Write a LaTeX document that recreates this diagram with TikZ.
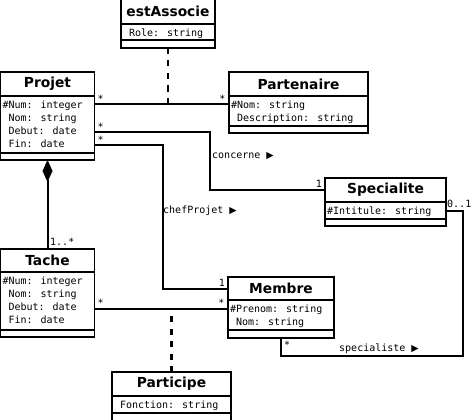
\documentclass[tikz,border=0pt]{standalone}
\usepackage{fontspec}
\setmainfont{DejaVu Sans}
\newfontfamily\monof{DejaVu Sans Mono}
\newfontfamily\symf{DejaVu Sans}
\usetikzlibrary{arrows.meta}
\newcommand\indsp{\hphantom{x}}
\newcommand\tri{{\symf\fontsize{9.5}{10}\selectfont ▶}}
\tikzset{
  classbox/.style={draw, line width=1.9pt, inner sep=0pt, outer sep=0pt, anchor=north west, fill=white},
  divline/.style={line width=1.9pt},
  titletext/.style={font=\fontsize{13.8}{16}\selectfont\bfseries, inner sep=0pt},
  attrtext/.style={font={\monof\fontsize{10}{13.3}\selectfont}, align=left, inner sep=0pt, anchor=north west},
  conn/.style={line width=2pt},
  assoc/.style={line width=2.2pt, dash pattern=on 6pt off 6.5pt},
  mult/.style={font={\monof\fontsize{10}{12}\selectfont}, inner sep=0pt},
  role/.style={font={\monof\fontsize{10}{12}\selectfont}, inner sep=0pt, anchor=base west},
}
% #1 name, #2 x, #3 top y, #4 width, #5 height, #6 first divider offset, #7 second divider offset, #8 title, #9 attributes
\newcommand\umlclass[9]{%
  \node[classbox, minimum width=#4pt, minimum height=#5pt] (#1) at (#2,#3) {};
  \draw[divline] ([yshift=-#6pt]#1.north west) -- ([yshift=-#6pt]#1.north east);
  \draw[divline] ([yshift=-#7pt]#1.north west) -- ([yshift=-#7pt]#1.north east);
  \node[titletext] (#1-title) at ([yshift=-#6pt/2]#1.north) {#8};
  \node[attrtext] (#1-attrs) at ([xshift=1.8pt,yshift=-#6pt-4.3pt]#1.north west) {#9};
}
\begin{document}
\begin{tikzpicture}[x=1pt,y=-1pt]
\fill[white] (0,0) rectangle (474,420);
\useasboundingbox (0,0) rectangle (474,420);

\umlclass{estassocie}{121}{-1}{94}{49}{25}{41}{estAssocie}{\indsp Role: string}
\umlclass{projet}{0.5}{72}{94}{88}{24}{81}{Projet}{\#Num: integer\\\indsp Nom: string\\\indsp Debut: date\\\indsp Fin: date}
\umlclass{partenaire}{229}{72}{139}{61}{24}{54}{Partenaire}{\#Nom: string\\\indsp Description: string}
\umlclass{specialite}{325}{178}{121}{48}{24}{41}{Specialite}{\#Intitule: string}
\umlclass{tache}{0.5}{249}{94}{88}{23}{81}{Tache}{\#Num: integer\\\indsp Nom: string\\\indsp Debut: date\\\indsp Fin: date}
\umlclass{membre}{228}{277}{106}{61}{23}{53}{Membre}{\#Prenom: string\\\indsp Nom: string}
\umlclass{participe}{112}{372}{119}{53}{24}{41}{Participe}{\indsp Fonction: string}

% Projet -- Partenaire (estAssocie)
\coordinate (pA) at ([yshift=-32pt]projet.north east);
\coordinate (pB) at ([yshift=-32pt]partenaire.north west);
\draw[conn] (pA) -- (pB);
\draw[assoc] (estassocie.south) -- (estassocie.south |- pA);
\node[mult, anchor=base west] (m1) at ([xshift=3pt,yshift=1.8pt]pA) {*};
\node[mult, anchor=base east] (m2) at ([xshift=-3.5pt,yshift=1.8pt]pB) {*};

% concerne
\coordinate (cA) at ([yshift=-60pt]projet.north east);
\coordinate (cB) at ([yshift=-12pt]specialite.north west);
\draw[conn] (cA) -- ++(115,0) |- (cB);
\node[mult, anchor=base west] (m3) at ([xshift=3pt,yshift=2pt]cA) {*};
\node[mult, anchor=base east] (m4) at ([xshift=-3pt,yshift=2.5pt]cB) {1};
\node[role] (r1) at (212,158.4) {concerne \tri};

% chefProjet
\coordinate (hA) at ([yshift=-73pt]projet.north east);
\coordinate (hB) at ([yshift=-12pt]membre.north west);
\draw[conn] (hA) -- ++(68,0) |- (hB);
\node[mult, anchor=base west] (m5) at ([xshift=3pt,yshift=2pt]hA) {*};
\node[mult, anchor=base east] (m6) at ([xshift=-3pt,yshift=2.5pt]hB) {1};
\node[role] (r2) at (163,213.8) {chefProjet \tri};

% composition Projet <>-- Tache
\draw[conn, -{Diamond[length=22pt,width=10pt]}] (tache.north) -- (projet.south);
\node[mult, anchor=base west] (m7) at ([xshift=2.5pt,yshift=3.5pt]tache.north) {1..*};

% Tache -- Membre (Participe)
\coordinate (tA) at ([yshift=-60pt]tache.north east);
\coordinate (tB) at ([yshift=-32pt]membre.north west);
\draw[conn] (tA) -- (tB);
\draw[assoc] (participe.north) -- (participe.north |- tA);
\node[mult, anchor=base west] (m8) at ([xshift=3pt,yshift=2.5pt]tA) {*};
\node[mult, anchor=base east] (m9) at ([xshift=-3.5pt,yshift=2.5pt]tB) {*};

% specialiste
\coordinate (sA) at ([yshift=-33pt]specialite.north east);
\draw[conn] (sA) -- ++(17,0) |- ([yshift=-18pt]membre.south) -- (membre.south);
\node[mult, anchor=base west] (m10) at ([xshift=1pt,yshift=3.4pt]sA) {0..1};
\node[mult, anchor=base west] (m11) at ([xshift=3pt,yshift=-10.9pt]membre.south) {*};
\node[role] (r3) at (339,351.5) {specialiste \tri};
\end{tikzpicture}
\end{document}
